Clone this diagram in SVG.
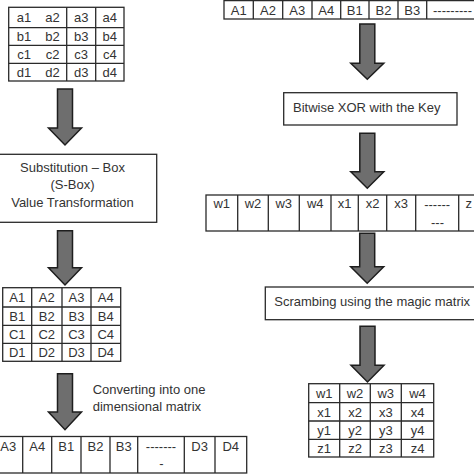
<svg xmlns="http://www.w3.org/2000/svg" width="474" height="474" viewBox="0 0 474 474">
<style>
text{font-family:"Liberation Sans",Arial,sans-serif;font-size:13px;fill:#333}
.c{text-anchor:middle}
.ln{stroke:#2a2a2a;stroke-width:1.3;fill:none}
.bx{stroke:#2a2a2a;stroke-width:1.3;fill:#fff}
.ar{fill:#6e6e6e;stroke:#1e1e1e;stroke-width:1.5;stroke-linejoin:miter}
</style>
<rect width="474" height="474" fill="#fff"/>

<g id="matrix-a">
<rect class="bx" x="8.7" y="7.3" width="115.3" height="73.7"/>
<path class="ln" d="M8.7 27.7H124M8.7 45.3H124M8.7 63.3H124M66.7 7.3V81M95.7 7.3V81"/>
<g class="c">
<text x="24" y="22">a1</text><text x="52.5" y="22">a2</text><text x="81.2" y="22">a3</text><text x="109.8" y="22">a4</text>
<text x="24" y="41">b1</text><text x="52.5" y="41">b2</text><text x="81.2" y="41">b3</text><text x="109.8" y="41">b4</text>
<text x="24" y="58.8">c1</text><text x="52.5" y="58.8">c2</text><text x="81.2" y="58.8">c3</text><text x="109.8" y="58.8">c4</text>
<text x="24" y="76.7">d1</text><text x="52.5" y="76.7">d2</text><text x="81.2" y="76.7">d3</text><text x="109.8" y="76.7">d4</text>
</g>
</g>

<g id="sbox">
<rect class="bx" x="-12" y="154.3" width="168.7" height="68"/>
<g class="c">
<text x="72.5" y="171.7">Substitution – Box</text>
<text x="72.5" y="189">(S-Box)</text>
<text x="72.5" y="206.7">Value Transformation</text>
</g>
</g>

<g id="matrix-A">
<rect class="bx" x="2.7" y="287.7" width="118" height="73.6"/>
<path class="ln" d="M2.7 307H120.7M2.7 325.3H120.7M2.7 343.3H120.7M31.7 287.7V361.3M62 287.7V361.3M91 287.7V361.3"/>
<g class="c">
<text x="17.2" y="302">A1</text><text x="46.8" y="302">A2</text><text x="76.5" y="302">A3</text><text x="105.8" y="302">A4</text>
<text x="17.2" y="320.8">B1</text><text x="46.8" y="320.8">B2</text><text x="76.5" y="320.8">B3</text><text x="105.8" y="320.8">B4</text>
<text x="17.2" y="338.9">C1</text><text x="46.8" y="338.9">C2</text><text x="76.5" y="338.9">C3</text><text x="105.8" y="338.9">C4</text>
<text x="17.2" y="357">D1</text><text x="46.8" y="357">D2</text><text x="76.5" y="357">D3</text><text x="105.8" y="357">D4</text>
</g>
</g>

<g id="convert-label">
<text x="92.7" y="394">Converting into one</text>
<text x="92.7" y="411">dimensional matrix</text>
</g>

<g id="array-bottom">
<rect class="bx" x="-6.3" y="436.5" width="253" height="36.5"/>
<path class="ln" d="M22.7 436.5V473M51.7 436.5V473M81 436.5V473M110 436.5V473M137.7 436.5V473M184.3 436.5V473M215 436.5V473"/>
<g class="c">
<text x="8.2" y="451">A3</text><text x="37.2" y="451">A4</text><text x="66.3" y="451">B1</text><text x="95.5" y="451">B2</text><text x="123.8" y="451">B3</text>
<text x="161" y="451">-------</text><text x="161.5" y="467.5">-</text>
<text x="199.6" y="451">D3</text><text x="230.8" y="451">D4</text>
</g>
</g>

<g id="array-top">
<rect class="bx" x="224" y="0.6" width="260" height="18.4"/>
<path class="ln" d="M253.3 0.6V19M282.7 0.6V19M312 0.6V19M340.7 0.6V19M369 0.6V19M398 0.6V19M426.7 0.6V19"/>
<g class="c">
<text x="238.7" y="14.7">A1</text><text x="268" y="14.7">A2</text><text x="297.3" y="14.7">A3</text><text x="326.3" y="14.7">A4</text>
<text x="354.8" y="14.7">B1</text><text x="383.5" y="14.7">B2</text><text x="412.3" y="14.7">B3</text>
</g>
<text x="433" y="14.7">---------</text>
</g>

<g id="xor">
<rect class="bx" x="283.7" y="92.7" width="173.3" height="32.3"/>
<text x="293" y="112">Bitwise XOR with the Key</text>
</g>

<g id="array-w">
<rect class="bx" x="206" y="195" width="280" height="36"/>
<path class="ln" d="M237.7 195V231M268.3 195V231M299.3 195V231M331 195V231M358.3 195V231M386.7 195V231M415.7 195V231M458.7 195V231"/>
<g class="c">
<text x="221.8" y="207.8">w1</text><text x="253" y="207.8">w2</text><text x="283.8" y="207.8">w3</text><text x="315.2" y="207.8">w4</text>
<text x="344.7" y="207.8">x1</text><text x="372.5" y="207.8">x2</text><text x="401.2" y="207.8">x3</text>
<text x="437.2" y="208.5">------</text><text x="437.5" y="226.7">---</text>
</g>
<text x="465.5" y="207.8">z</text>
</g>

<g id="scramble">
<rect class="bx" x="265.3" y="287" width="215" height="32.7"/>
<text x="274.3" y="305.5">Scrambing using the magic matrix</text>
</g>

<g id="matrix-w">
<rect class="bx" x="308.7" y="383.7" width="125" height="73.3"/>
<path class="ln" d="M308.7 402.7H433.7M308.7 421H433.7M308.7 439.3H433.7M339.7 383.7V457M370.3 383.7V457M401.3 383.7V457"/>
<g class="c">
<text x="324.2" y="397.8">w1</text><text x="355" y="397.8">w2</text><text x="385.8" y="397.8">w3</text><text x="417.5" y="397.8">w4</text>
<text x="324.2" y="416.5">x1</text><text x="355" y="416.5">x2</text><text x="385.8" y="416.5">x3</text><text x="417.5" y="416.5">x4</text>
<text x="324.2" y="434.8">y1</text><text x="355" y="434.8">y2</text><text x="385.8" y="434.8">y3</text><text x="417.5" y="434.8">y4</text>
<text x="324.2" y="452.8">z1</text><text x="355" y="452.8">z2</text><text x="385.8" y="452.8">z3</text><text x="417.5" y="452.8">z4</text>
</g>
</g>

<g id="connectors">
<path class="ar" d="M57.5 89H72.5V128H81.5L65 145L48.5 128H57.5Z"/>
<path class="ar" d="M57.5 230.7H72.5V267.7H81.5L65 285L48.5 267.7H57.5Z"/>
<path class="ar" d="M57.5 373.7H72.5V412H81.5L65 429.7L48.5 412H57.5Z"/>
<path class="ar" d="M359.8 24H374.8V63.3H383.8L367.3 79.3L350.8 63.3H359.8Z"/>
<path class="ar" d="M359.8 133.3H374.8V171.7H383.8L367.3 188.3L350.8 171.7H359.8Z"/>
<path class="ar" d="M359.7 233.3H374.7V266.7H383.7L367.2 283.3L350.7 266.7H359.7Z"/>
<path class="ar" d="M360 326.3H375V365.3H384L367.5 382L351 365.3H360Z"/>
</g>
</svg>
